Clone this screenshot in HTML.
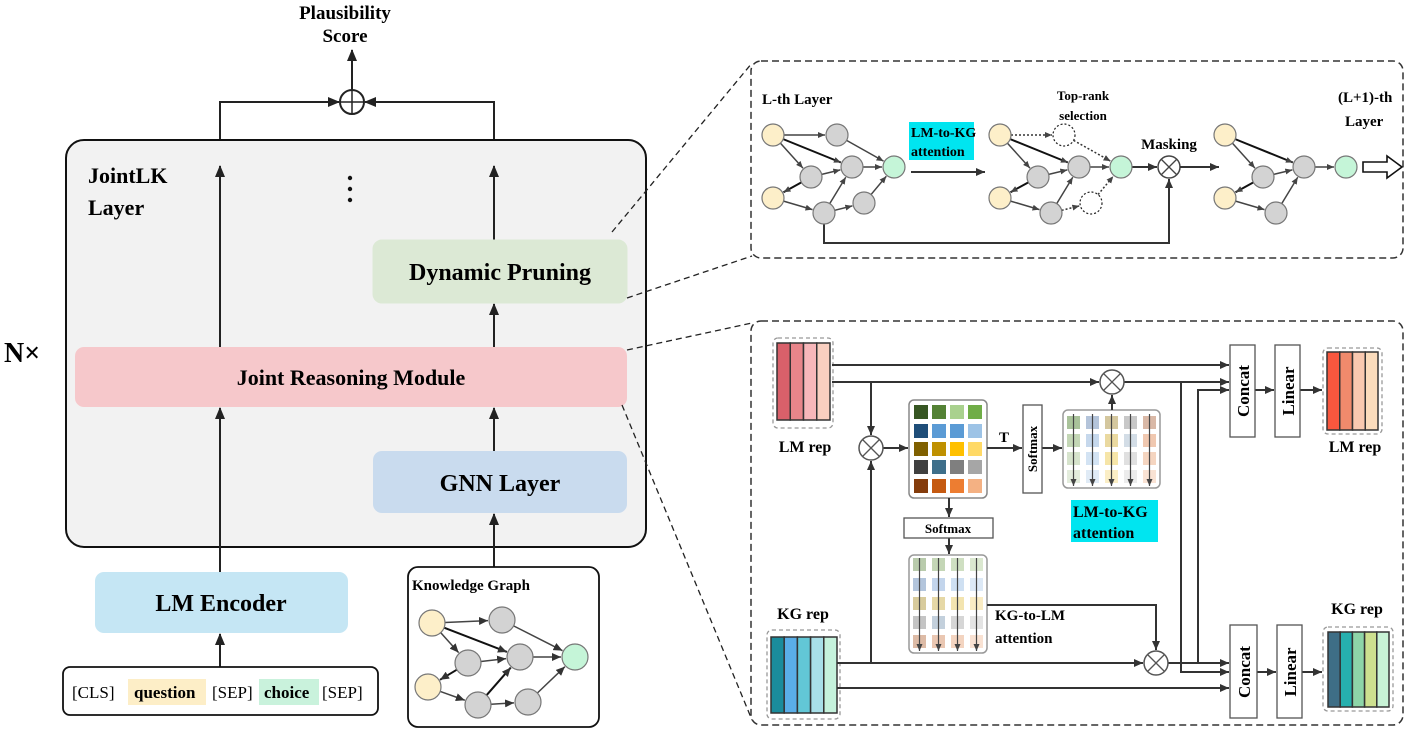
<!DOCTYPE html>
<html><head><meta charset="utf-8"><style>
body{margin:0;background:#fff;}
svg{display:block;font-family:"Liberation Serif",serif;}
.b{font-weight:bold;}
</style></head><body>
<svg id="s" width="1409" height="730" viewBox="0 0 1409 730" xmlns="http://www.w3.org/2000/svg">
<defs>
<marker id="a" markerUnits="userSpaceOnUse" markerWidth="12" markerHeight="10" refX="11" refY="5" orient="auto"><path d="M0,0 L12,5 L0,10 z" fill="#222"/></marker>
<marker id="g" markerUnits="userSpaceOnUse" markerWidth="9" markerHeight="8" refX="9" refY="4" orient="auto"><path d="M0,0 L9,4 L0,8 z" fill="#333"/></marker>
<marker id="m" markerUnits="userSpaceOnUse" markerWidth="7" markerHeight="6" refX="7" refY="3" orient="auto"><path d="M0,0 L7,3 L0,6 z" fill="#444"/></marker>
</defs>

<!-- Top plausibility -->
<text x="345" y="19" text-anchor="middle" class="b" font-size="19">Plausibility</text>
<text x="345" y="42" text-anchor="middle" class="b" font-size="19">Score</text>
<line x1="352" y1="90" x2="352" y2="50" stroke="#222" stroke-width="2" marker-end="url(#a)"/>
<circle cx="352" cy="102" r="12" fill="#fff" stroke="#222" stroke-width="2"/>
<line x1="340" y1="102" x2="364" y2="102" stroke="#222" stroke-width="1.5"/>
<line x1="352" y1="90" x2="352" y2="114" stroke="#222" stroke-width="1.5"/>
<polyline points="220,165 220,102 339,102" fill="none" stroke="#222" stroke-width="2" marker-end="url(#a)"/>
<polyline points="494,165 494,102 365,102" fill="none" stroke="#222" stroke-width="2" marker-end="url(#a)"/>

<!-- JointLK box -->
<rect x="66" y="140" width="580" height="407" rx="18" fill="#f2f2f2" stroke="#111" stroke-width="2"/>
<text x="88" y="183" class="b" font-size="22">JointLK</text>
<text x="88" y="215" class="b" font-size="22">Layer</text>
<circle cx="350" cy="178" r="2.2" fill="#111"/><circle cx="350" cy="189" r="2.2" fill="#111"/><circle cx="350" cy="200" r="2.2" fill="#111"/>
<text x="4" y="362" class="b" font-size="28">N×</text>

<line x1="220" y1="347" x2="220" y2="166" stroke="#222" stroke-width="2" marker-end="url(#a)"/>
<line x1="494" y1="240" x2="494" y2="166" stroke="#222" stroke-width="2" marker-end="url(#a)"/>
<line x1="494" y1="347" x2="494" y2="304" stroke="#222" stroke-width="2" marker-end="url(#a)"/>
<line x1="494" y1="451" x2="494" y2="408" stroke="#222" stroke-width="2" marker-end="url(#a)"/>
<line x1="220" y1="572" x2="220" y2="408" stroke="#222" stroke-width="2" marker-end="url(#a)"/>
<line x1="494" y1="567" x2="494" y2="514" stroke="#222" stroke-width="2" marker-end="url(#a)"/>
<line x1="220" y1="667" x2="220" y2="634" stroke="#222" stroke-width="2" marker-end="url(#a)"/>

<rect x="373" y="240" width="254" height="63" rx="9" fill="#dce9d5" stroke="#dce9d5"/>
<text x="500" y="280" text-anchor="middle" class="b" font-size="24">Dynamic Pruning</text>
<rect x="75" y="347" width="552" height="60" rx="9" fill="#f6c8cb"/>
<text x="351" y="385" text-anchor="middle" class="b" font-size="22">Joint Reasoning Module</text>
<rect x="373" y="451" width="254" height="62" rx="9" fill="#c9dbee"/>
<text x="500" y="491" text-anchor="middle" class="b" font-size="24">GNN Layer</text>
<rect x="95" y="572" width="253" height="61" rx="9" fill="#c5e6f4"/>
<text x="221" y="611" text-anchor="middle" class="b" font-size="24">LM Encoder</text>

<!-- input box -->
<rect x="63" y="667" width="315" height="48" rx="7" fill="#fff" stroke="#111" stroke-width="1.8"/>
<rect x="128" y="679" width="78" height="26" fill="#fdeec7"/>
<rect x="259" y="679" width="60" height="26" fill="#c9f2dc"/>
<text y="698" font-size="17"><tspan x="72">[CLS]</tspan><tspan x="134" class="b">question</tspan><tspan x="212">[SEP]</tspan><tspan x="264" class="b">choice</tspan><tspan x="322">[SEP]</tspan></text>

<!-- KG box -->
<rect x="408" y="567" width="191" height="160" rx="10" fill="#fff" stroke="#111" stroke-width="1.8"/>
<text x="412" y="590" class="b" font-size="15">Knowledge Graph</text>
<g id="kg"></g>

<!-- dashed connectors -->
<line x1="612" y1="232" x2="752" y2="63" stroke="#222" stroke-width="1.3" stroke-dasharray="6,4"/>
<line x1="627" y1="298" x2="752" y2="256" stroke="#222" stroke-width="1.3" stroke-dasharray="6,4"/>
<line x1="627" y1="350" x2="752" y2="323" stroke="#222" stroke-width="1.3" stroke-dasharray="6,4"/>
<line x1="622" y1="405" x2="752" y2="720" stroke="#222" stroke-width="1.3" stroke-dasharray="6,4"/>

<!-- top right dashed box -->
<rect x="751" y="61" width="652" height="197" rx="10" fill="#fff" stroke="#333" stroke-width="1.5" stroke-dasharray="7,4"/>
<text x="762" y="104" class="b" font-size="15">L-th Layer</text>
<rect x="909" y="122" width="65" height="38" fill="#00e5f0"/>
<text x="911" y="137" class="b" font-size="14">LM-to-KG</text>
<text x="911" y="156" class="b" font-size="14">attention</text>
<line x1="911" y1="172" x2="985" y2="172" stroke="#333" stroke-width="2" marker-end="url(#g)"/>
<text x="1083" y="100" text-anchor="middle" class="b" font-size="13">Top-rank</text>
<text x="1083" y="120" text-anchor="middle" class="b" font-size="13">selection</text>
<text x="1169" y="149" text-anchor="middle" class="b" font-size="15">Masking</text>
<circle cx="1169" cy="167" r="11" fill="#fff" stroke="#444" stroke-width="1.5"/>
<line x1="1161" y1="159" x2="1177" y2="175" stroke="#444" stroke-width="1.3"/><line x1="1177" y1="159" x2="1161" y2="175" stroke="#444" stroke-width="1.3"/>
<line x1="1130" y1="167" x2="1157" y2="167" stroke="#333" stroke-width="2" marker-end="url(#g)"/>
<line x1="1180" y1="167" x2="1219" y2="167" stroke="#333" stroke-width="2" marker-end="url(#g)"/>
<polyline points="824,224 824,243 1169,243 1169,179" fill="none" stroke="#333" stroke-width="2" marker-end="url(#g)"/>
<path d="M1363,162 L1387,162 L1387,156 L1402,167 L1387,178 L1387,172 L1363,172 z" fill="#fff" stroke="#111" stroke-width="1.6"/>
<text x="1338" y="102" class="b" font-size="15">(L+1)-th</text>
<text x="1345" y="126" class="b" font-size="15">Layer</text>
<g id="tg"></g>

<!-- bottom right dashed box -->
<rect x="751" y="321" width="652" height="404" rx="10" fill="#fff" stroke="#333" stroke-width="1.5" stroke-dasharray="7,4"/>
<g id="bm"></g>
<text x="805" y="452" text-anchor="middle" class="b" font-size="16">LM rep</text>
<text x="803" y="619" text-anchor="middle" class="b" font-size="16">KG rep</text>
<text x="1355" y="452" text-anchor="middle" class="b" font-size="16">LM rep</text>
<text x="1357" y="614" text-anchor="middle" class="b" font-size="16">KG rep</text>
<text x="999" y="442" class="b" font-size="15">T</text>
<rect x="1023" y="405" width="19" height="88" fill="#fff" stroke="#555" stroke-width="1.3"/>
<text transform="translate(1037,449) rotate(-90)" text-anchor="middle" class="b" font-size="13">Softmax</text>
<rect x="904" y="518" width="89" height="20" fill="#fff" stroke="#555" stroke-width="1.3"/>
<text x="948" y="533" text-anchor="middle" class="b" font-size="13">Softmax</text>
<rect x="1071" y="500" width="87" height="42" fill="#00e5f0"/>
<text x="1073" y="517" class="b" font-size="16">LM-to-KG</text>
<text x="1073" y="538" class="b" font-size="16">attention</text>
<text x="995" y="620" class="b" font-size="15">KG-to-LM</text>
<text x="995" y="643" class="b" font-size="15">attention</text>
<rect x="1230" y="345" width="25" height="92" fill="#fff" stroke="#555" stroke-width="1.3"/>
<text transform="translate(1249,391) rotate(-90)" text-anchor="middle" class="b" font-size="17">Concat</text>
<rect x="1275" y="345" width="25" height="92" fill="#fff" stroke="#555" stroke-width="1.3"/>
<text transform="translate(1294,391) rotate(-90)" text-anchor="middle" class="b" font-size="17">Linear</text>
<rect x="1230" y="625" width="27" height="93" fill="#fff" stroke="#555" stroke-width="1.3"/>
<text transform="translate(1250,672) rotate(-90)" text-anchor="middle" class="b" font-size="17">Concat</text>
<rect x="1277" y="625" width="25" height="93" fill="#fff" stroke="#555" stroke-width="1.3"/>
<text transform="translate(1296,672) rotate(-90)" text-anchor="middle" class="b" font-size="17">Linear</text>
</svg>
<script>
var NS="http://www.w3.org/2000/svg";
function el(p,t,a){var e=document.createElementNS(NS,t);for(var k in a)e.setAttribute(k,a[k]);p.appendChild(e);return e;}
var base={Y1:[773,135],G1:[837,135],G2:[852,167],G3:[811,177],Gr:[894,167],Y2:[773,198],G4:[824,213],G5:[864,203]};
var col={Y:"#fdefc9",G:"#d3d3d3",Gr:"#c5f5d8"};
function fill(k){return k=="Gr"?col.Gr:(k[0]=="Y"?col.Y:col.G);}
function graph(p,N,r,E,dotN,mk){
 E.forEach(function(e){var a=N[e[0]],b=N[e[1]];var dx=b[0]-a[0],dy=b[1]-a[1],L=Math.hypot(dx,dy);var ux=dx/L,uy=dy/L;
  var at={x1:a[0]+ux*r,y1:a[1]+uy*r,x2:b[0]-ux*(r+1),y2:b[1]-uy*(r+1),stroke:e[2]=="b"?"#111":"#444","stroke-width":e[2]=="b"?2:1.5,"marker-end":"url(#"+mk+")"};
  if(e[2]=="d"){at["stroke-dasharray"]="2,2";at.stroke="#333";}
  el(p,"line",at);});
 for(var k in N){var d=dotN&&dotN.indexOf(k)>=0;el(p,"circle",{cx:N[k][0],cy:N[k][1],r:r,fill:d?"#fff":fill(k),stroke:d?"#222":"#777","stroke-width":d?1.2:1.2,"stroke-dasharray":d?"2,2":"none"});}
}
function off(keys,dx){var o={};keys.forEach(function(k){o[k]=[base[k][0]+dx,base[k][1]];});return o;}
var tg=document.getElementById("tg");
var fullE=[["Y1","G1"],["Y1","G2","b"],["Y1","G3"],["G1","Gr"],["G3","G2"],["G2","Gr"],["G3","Y2","b"],["Y2","G4"],["G4","G2"],["G4","G5"],["G5","Gr"]];
graph(tg,off(Object.keys(base),0),11,fullE,null,"m");
graph(tg,off(Object.keys(base),227),11,[["Y1","G1","d"],["G1","Gr","d"],["G4","G5","d"],["G5","Gr","d"],["Y1","G2","b"],["Y1","G3"],["G3","G2"],["G2","Gr"],["G3","Y2","b"],["Y2","G4"],["G4","G2"]],["G1","G5"],"m");
graph(tg,off(["Y1","G2","G3","Gr","Y2","G4"],452),11,[["Y1","G2","b"],["Y1","G3"],["G3","G2"],["G4","G2"],["Y2","G4"],["G3","Y2","b"],["G2","Gr"]],null,"m");
var kgN={Y1:[432,623],G1:[502,620],G2:[520,657],G3:[468,663],Gr:[575,657],Y2:[428,687],G4:[478,705],G5:[528,702]};
graph(document.getElementById("kg"),kgN,13,[["Y1","G1"],["Y1","G2","b"],["Y1","G3"],["G1","Gr"],["G3","G2"],["G2","Gr"],["G3","Y2","b"],["Y2","G4"],["G4","G2","b"],["G4","G5"],["G5","Gr"]],null,"g");

var bm=document.getElementById("bm");
function bars(x,y,w,h,cs,dx,dy,dw,dh){el(bm,"rect",{x:dx,y:dy,width:dw,height:dh,rx:5,fill:"none",stroke:"#999","stroke-width":1.3,"stroke-dasharray":"4,3"});
 var bw=w/cs.length;cs.forEach(function(c,i){el(bm,"rect",{x:x+i*bw,y:y,width:bw,height:h,fill:c,stroke:"#333","stroke-width":1.5});});}
bars(777,343,53,77,["#d9606a","#e8858a","#f7b7ba","#f9cfc0"],773,338,60,90);
bars(771,637,66,76,["#1a8c9c","#5aaee8","#62c7d6","#a8dfe8","#c5f2dc"],767,630,73,89);
bars(1327,352,51,78,["#f9573e","#f08a6c","#f9c9b0","#fbdcbc"],1323,348,59,86);
bars(1328,632,61,75,["#3e6e86","#26b0ae","#8dd5a8","#cde08f","#c8f3d6"],1323,627,70,84);
// matrix
el(bm,"rect",{x:909,y:400,width:78,height:98,rx:5,fill:"#fff",stroke:"#888","stroke-width":1.5});
var M=[["#375623","#548235","#a9d18e","#70ad47"],["#1f4e79","#5b9bd5","#5b9bd5","#9dc3e6"],["#7f6000","#bf9000","#ffc000","#ffd966"],["#404040","#3e6f8a","#7f7f7f","#a6a6a6"],["#843c0c","#c55a11","#ed7d31","#f4b183"]];
var cx=[914,932,950,968],ry=[405,424,442,460,479];
M.forEach(function(r,i){r.forEach(function(c,j){el(bm,"rect",{x:cx[j],y:ry[i],width:14,height:14,fill:c});});});
// att1
el(bm,"rect",{x:1063,y:410,width:97,height:78,rx:5,fill:"#fff",stroke:"#999","stroke-width":1.5});
var C1=[["#a9c29a","#b4c4da","#d4c79e","#c8c8c8","#d9b8a6"],["#c3d6b5","#c6d8ec","#ead9a0","#d3dde6","#f0c8b0"],["#d6e3cc","#d3e3f3","#f6e5a8","#e0e0e0","#f5d5c0"],["#e3ecdc","#e0ebf6","#fbeec5","#ececec","#f9e2d3"]];
var ax=[1067,1086,1105,1124,1143],ay=[416,434,452,470];
C1.forEach(function(r,i){r.forEach(function(c,j){el(bm,"rect",{x:ax[j],y:ay[i],width:13,height:13,fill:c});});});
ax.forEach(function(x){el(bm,"line",{x1:x+6.5,y1:414,x2:x+6.5,y2:486,stroke:"#444","stroke-width":1.2,"marker-end":"url(#m)"});});
// att2
el(bm,"rect",{x:909,y:555,width:78,height:98,rx:5,fill:"#fff",stroke:"#999","stroke-width":1.5});
var C2=[["#b9cbac","#c4d6b6","#cfdfc2","#dbe8d0"],["#b3c5dc","#c3d5ec","#cfe0f2","#dde9f6"],["#d8cb9c","#e6d8a6","#f3e4b0","#faecc4"],["#c4c4c4","#c3d0dc","#d6d6d6","#e4e4e4"],["#ddbba6","#eac7b2","#f3d4c0","#f9e2d3"]];
var bx=[913,932,951,970],by=[558,578,597,616,635];
C2.forEach(function(r,i){r.forEach(function(c,j){el(bm,"rect",{x:bx[j],y:by[i],width:13,height:13,fill:c});});});
bx.forEach(function(x){el(bm,"line",{x1:x+6.5,y1:558,x2:x+6.5,y2:651,stroke:"#444","stroke-width":1.2,"marker-end":"url(#m)"});});
function L(pts,mk){el(bm,"polyline",{points:pts,fill:"none",stroke:"#333","stroke-width":2,"marker-end":mk?"url(#g)":""});}
function ot(x,y){el(bm,"circle",{cx:x,cy:y,r:12,fill:"#fff",stroke:"#555","stroke-width":1.5});var d=8.5;
 el(bm,"line",{x1:x-d,y1:y-d,x2:x+d,y2:y+d,stroke:"#555","stroke-width":1.3});el(bm,"line",{x1:x+d,y1:y-d,x2:x-d,y2:y+d,stroke:"#555","stroke-width":1.3});}
L("832,365 1229,365",1);
L("832,382 1099,382",1);
L("1124,382 1229,382",1);
L("871,382 871,435",1);
L("837,663 1143,663",1);
L("871,663 871,461",1);
L("837,688 1229,688",1);
L("883,448 908,448",1);
L("987,448 1022,448",1);
L("1042,448 1062,448",1);
L("1112,410 1112,395",1);
L("949,498 949,517",1);
L("949,538 949,554",1);
L("987,605 1156,605 1156,650",1);
L("1168,663 1229,663",1);
L("1181,382 1181,672 1229,672",1);
L("1198,663 1198,390 1229,390",1);
L("1255,390 1274,390",1);
L("1300,390 1322,390",1);
L("1257,672 1276,672",1);
L("1302,672 1322,672",1);
ot(871,448);ot(1112,382);ot(1156,663);
</script>
</body></html>
